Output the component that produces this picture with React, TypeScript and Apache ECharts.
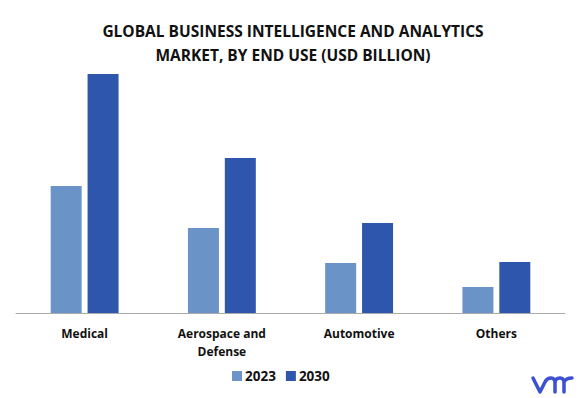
import React, { useEffect, useRef } from "react";
import * as echarts from "echarts";

const categories = ["Medical", "Aerospace and\nDefense", "Automotive", "Others"];
const seriesNames = ["2023", "2030"];
const values2023 = [12.7, 8.5, 5.0, 2.6];
const values2030 = [23.9, 15.5, 9.0, 5.1];
const titleText = "GLOBAL BUSINESS INTELLIGENCE AND ANALYTICS\nMARKET, BY END USE (USD BILLION)";

const LOGO_D =
  "M0 0 L7 14 L12 4 Q14 0 18 0 Q22 0 22 5 L22 14 M22 5 Q22 0 27 0 Q31 0 31 5 L31 14 M31 4 Q33 0 39 0";

export default function App() {
  const ref = useRef<HTMLDivElement>(null);
  useEffect(() => {
    if (!ref.current) return;
    try {
      echarts.graphic.registerShape("logo", echarts.graphic.extendPath(LOGO_D, {}) as any);
    } catch (e) {}
    const chart = echarts.init(ref.current, undefined, { renderer: "svg" });
    const font = "'Open Sans', sans-serif";
    chart.setOption({
      animation: false,
      backgroundColor: "#ffffff",
      title: {
        text: titleText,
        left: "center",
        top: 14,
        textStyle: {
          fontFamily: font,
          fontWeight: "bold",
          fontSize: 15.5,
          lineHeight: 24,
          color: "#111111",
        },
      },
      legend: {
        data: seriesNames,
        top: 364,
        left: 227,
        itemWidth: 10,
        itemHeight: 10,
        itemGap: 10,
        icon: "rect",
        textStyle: { fontFamily: font, fontWeight: "bold", fontSize: 13.5, color: "#111", padding: [0, 0, 0, -2] },
      },
      grid: { left: 16, right: 21, top: 63, bottom: 85, containLabel: false },
      xAxis: {
        type: "category",
        data: categories,
        axisLine: { lineStyle: { color: "#aaaaaa", width: 1 } },
        axisTick: { show: false },
        axisLabel: {
          fontFamily: font,
          fontWeight: "bold",
          fontSize: 12,
          color: "#111",
          margin: 11,
          lineHeight: 18,
          interval: 0,
        },
      },
      yAxis: {
        type: "value",
        min: 0,
        max: 25,
        show: false,
        splitLine: { show: false },
      },
      series: [
        {
          name: seriesNames[0],
          type: "bar",
          data: values2023,
          barWidth: 31,
          barGap: "19%",
          itemStyle: { color: "#6a93c8" },
        },
        {
          name: seriesNames[1],
          type: "bar",
          data: values2030,
          barWidth: 31,
          itemStyle: { color: "#2e56ac" },
        },
      ],
      graphic: [
        {
          type: "logo",
          x: 533,
          y: 378,
          scaleX: 1,
          scaleY: 1,
          shape: {},
          style: { stroke: "#3b50d2", fill: "none", lineWidth: 3.5, lineCap: "round", lineJoin: "round" },
        } as any,
      ],
    });
    return () => chart.dispose();
  }, []);
  return <div ref={ref} style={{ width: 586, height: 398, position: "absolute", left: 0, top: 0 }} />;
}
